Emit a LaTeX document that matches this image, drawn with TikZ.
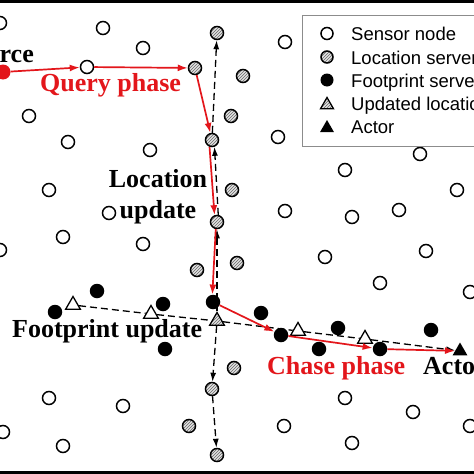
\documentclass[tikz,border=0pt]{standalone}
\usepackage{fontspec}
\setmainfont{Liberation Serif}
\newfontfamily\legfont{Liberation Sans}
\usepackage{tikz}
\usetikzlibrary{arrows.meta,shapes.geometric,patterns}
\definecolor{qred}{HTML}{E3161B}
\definecolor{frame}{HTML}{8C8C8C}
\definecolor{hatchbg}{HTML}{E2E2E2}
\tikzset{
  sensor/.style={circle, draw=black, line width=1.5pt, fill=white, minimum size=13pt, inner sep=0pt},
  loc/.style={sensor, preaction={fill=hatchbg}, pattern=north east lines, pattern color=black!60},
  foot/.style={circle, fill=black, minimum size=14.5pt, inner sep=0pt},
  upd/.style={regular polygon, regular polygon sides=3, draw=black, line width=1.3pt, fill=white, minimum size=17pt, inner sep=0pt},
  updh/.style={upd, preaction={fill=hatchbg}, pattern=north east lines, pattern color=black!60},
  actor/.style={regular polygon, regular polygon sides=3, fill=black, minimum size=17pt, inner sep=0pt},
  src/.style={circle, fill=qred, minimum size=15pt, inner sep=0pt},
  redarr/.style={draw=qred, line width=1.7pt, -{Latex[length=10pt,width=7pt]}},
  dashln/.style={draw=black, line width=1.3pt, dash pattern=on 7pt off 4pt},
  dasharr/.style={dashln, -{Latex[length=9pt,width=6pt]}},
  lab/.style={font=\fontsize{26}{31}\selectfont\bfseries, inner sep=0pt},
  leg/.style={font=\legfont\fontsize{18.5}{22}\selectfont, inner sep=0pt, anchor=base west}
}

\begin{document}
\begin{tikzpicture}[x=1pt,y=-1pt]
  \useasboundingbox (0,0) rectangle (474,474);
  \clip (0,0) rectangle (474,474);
  \fill[white] (0,0) rectangle (474,474);

  % plain sensor nodes
  \foreach \px/\py [count=\i] in {0/23,103/28,143/48,87/67,285/42,29/116,68/142,150/150,
      278/137,420/154,345/170,457/190,285/211,352/217,399/210,49/190,109/213,63/237,
      143/244,0/250,325/257,426/251,380/283,470/292,49/398,123/406,3/432,63/446,
      345/398,413/412,284/426,352/443,470/426}
    \node[sensor] (s\i) at (\px,\py) {};

  % location servers
  \foreach \px/\py [count=\i] in {217/33,195/68,243/76,231/116,212/140,232/190,217/222,
      197/270,237/263,234/368,212/389,189/426,217/455}
    \node[loc] (l\i) at (\px,\py) {};

  % footprint servers
  \foreach \px/\py [count=\i] in {97/291,55/312,163/304,213/302,165/349,261/313,281/335,
      338/328,319/349,380/349,431/330}
    \node[foot] (f\i) at (\px,\py) {};

  \node[upd]  (u1) at (73,305) {};
  \node[upd]  (u2) at (151,314) {};
  \node[updh] (u3) at (217,321) {};
  \node[upd]  (u4) at (298,331) {};
  \node[upd]  (u5) at (365,339) {};
  \node[actor] (a) at (460,351) {};
  \node[src] (so) at (3,72) {};

  % location update
  \draw[dasharr] (u3) -- (l7);
  \draw[dasharr] (l7.80) -- (l5.290);
  \draw[dasharr] (l5) -- (l1);
  \draw[dasharr] (u3) -- (l11);
  \draw[dasharr] (l11) -- (l13);

  % footprint update
  \draw[dashln] (u1) -- (u2) -- (u3) -- (u4) -- (u5);
  \draw[dasharr] (u5) -- (a);

  % query and chase
  \draw[redarr] (so) -- (s4);
  \draw[redarr] (s4) -- (l2);
  \draw[redarr] (l2) -- (l5);
  \draw[redarr] (l5.250) -- (l7.110);
  \draw[redarr] (l7.260) -- (f4.95);
  \draw[redarr] (f4) -- (f7);
  \draw[redarr] (f7) -- (f10);
  \draw[redarr] (f10) -- (a);

  \node[lab, anchor=base east] (srclab) at (34,62) {Source};
  \node[lab, text=qred, anchor=base west] (qlab) at (40,91) {Query phase};
  \node[lab, align=center] (lulab) at (158,197) {Location\\update};
  \node[lab, anchor=base west] (fplab) at (12,337) {Footprint update};
  \node[lab, text=qred, anchor=base west] (cplab) at (267,374) {Chase phase};
  \node[lab, anchor=base west] (aclab) at (423,374) {Actor};

  % legend
  \draw[frame, line width=0.9pt, fill=white] (302,15) rectangle (500,146);
  \node[sensor, minimum size=12pt] (k1) at (327,33.5) {};
  \node[loc, minimum size=12pt] (k2) at (327,57) {};
  \node[foot, minimum size=13pt] (k3) at (327,80) {};
  \node[updh, minimum size=15pt] (k4) at (327,105) {};
  \node[actor, minimum size=16pt] (k5) at (327,128) {};
  \node[leg] (t1) at (351,40.7) {Sensor node};
  \node[leg] (t2) at (351,64) {Location server};
  \node[leg] (t3) at (351,87) {Footprint server};
  \node[leg] (t4) at (351,110) {Updated location server};
  \node[leg] (t5) at (351,133) {Actor};

  \fill[black] (0,0) rectangle (474,3.3);
  \fill[black] (0,470.8) rectangle (474,474);
\end{tikzpicture}
\end{document}
